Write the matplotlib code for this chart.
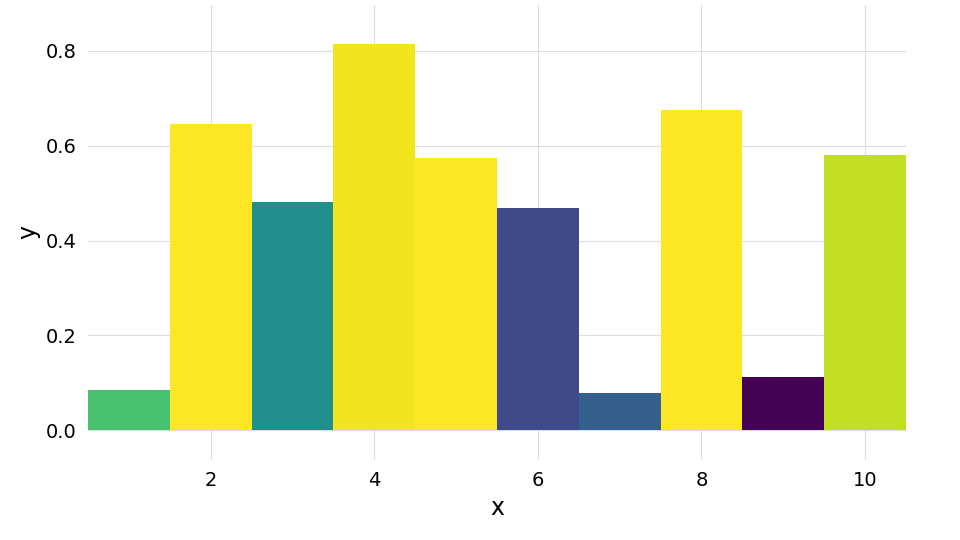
import matplotlib
matplotlib.use("Agg")
import matplotlib.pyplot as plt

x = [1, 2, 3, 4, 5, 6, 7, 8, 9, 10]
y = [0.085, 0.645, 0.482, 0.815, 0.573, 0.468, 0.078, 0.675, 0.112, 0.58]
colors = ["#48C16E", "#FDE725", "#21908C", "#F1E51D", "#FDE725",
          "#3E4A89", "#355F8D", "#FDE725", "#440154", "#C2DF23"]

fig = plt.figure(figsize=(9.6, 5.4), dpi=100)
ax = fig.add_axes([0.0917, 0.148, 0.852, 0.843])
ax.bar(x, y, width=1.0, color=colors, zorder=2)
ax.set_xlim(0.5, 10.5)
ax.set_ylim(-0.063, 0.897)
ax.set_xticks([2, 4, 6, 8, 10])
ax.set_yticks([0.0, 0.2, 0.4, 0.6, 0.8])
ax.set_yticklabels(["0.0", "0.2", "0.4", "0.6", "0.8"])
ax.grid(True, color="#dddddd", linewidth=0.8, zorder=0)
for s in ax.spines.values():
    s.set_visible(False)
ax.tick_params(length=0, labelsize=14, pad=8)
ax.set_xlabel("x", fontsize=17, labelpad=4)
ax.set_ylabel("y", fontsize=17, labelpad=4)
fig.savefig("out.png", dpi=100)
